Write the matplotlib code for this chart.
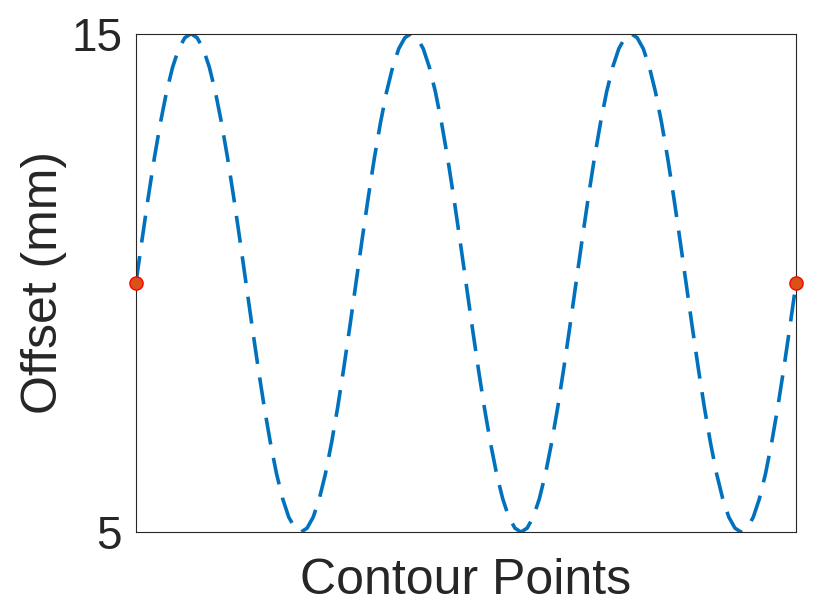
import matplotlib
matplotlib.use("Agg")
import matplotlib.pyplot as plt

offset_mm = [
    10, 10.87, 11.71, 12.5, 13.21, 13.83, 14.33, 14.70, 14.92, 15, 14.92, 14.70, 14.33, 13.83, 13.21, 12.5, 11.71, 10.87,
    10, 9.13, 8.29, 7.5, 6.79, 6.17, 5.67, 5.30, 5.08, 5, 5.08, 5.30, 5.67, 6.17, 6.79, 7.5, 8.29, 9.13,
    10, 10.87, 11.71, 12.5, 13.21, 13.83, 14.33, 14.70, 14.92, 15, 14.92, 14.70, 14.33, 13.83, 13.21, 12.5, 11.71, 10.87,
    10, 9.13, 8.29, 7.5, 6.79, 6.17, 5.67, 5.30, 5.08, 5, 5.08, 5.30, 5.67, 6.17, 6.79, 7.5, 8.29, 9.13,
    10, 10.87, 11.71, 12.5, 13.21, 13.83, 14.33, 14.70, 14.92, 15, 14.92, 14.70, 14.33, 13.83, 13.21, 12.5, 11.71, 10.87,
    10, 9.13, 8.29, 7.5, 6.79, 6.17, 5.67, 5.30, 5.08, 5, 5.08, 5.30, 5.67, 6.17, 6.79, 7.5, 8.29, 9.13,
    10,
]
contour_points = list(range(1, len(offset_mm) + 1))
end_points_x = [contour_points[0], contour_points[-1]]
end_points_y = [offset_mm[0], offset_mm[-1]]
y_ticks = [5, 15]

plt.rcParams['font.family'] = ['Liberation Sans', 'DejaVu Sans']

fig = plt.figure(figsize=(8.19, 6.13), dpi=100)
ax = fig.add_axes([0.166, 0.132, 0.806, 0.813])

line, = ax.plot(contour_points, offset_mm, color='#0072BD', linewidth=2.6, linestyle='--')
line.set_dashes([7.5, 3.8])
ax.plot(end_points_x, end_points_y, linestyle='none', marker='o', markersize=9.5,
        markerfacecolor='#D95319', markeredgecolor='#FF0000', markeredgewidth=1.0, clip_on=False, zorder=5)

ax.set_xlim(contour_points[0], contour_points[-1])
ax.set_ylim(5, 15)
ax.set_xticks([])
ax.set_yticks(y_ticks)
ax.set_yticklabels([str(t) for t in y_ticks])
ax.tick_params(axis='y', length=0, labelsize=33, colors='#262626', pad=10)
for s in ax.spines.values():
    s.set_color('#262626')
    s.set_linewidth(0.8)

ax.set_xlabel('Contour Points', fontsize=36, color='#262626', labelpad=19)
ax.set_ylabel('Offset (mm)', fontsize=36, color='#262626', labelpad=3)

fig.savefig('out.png', dpi=100)
